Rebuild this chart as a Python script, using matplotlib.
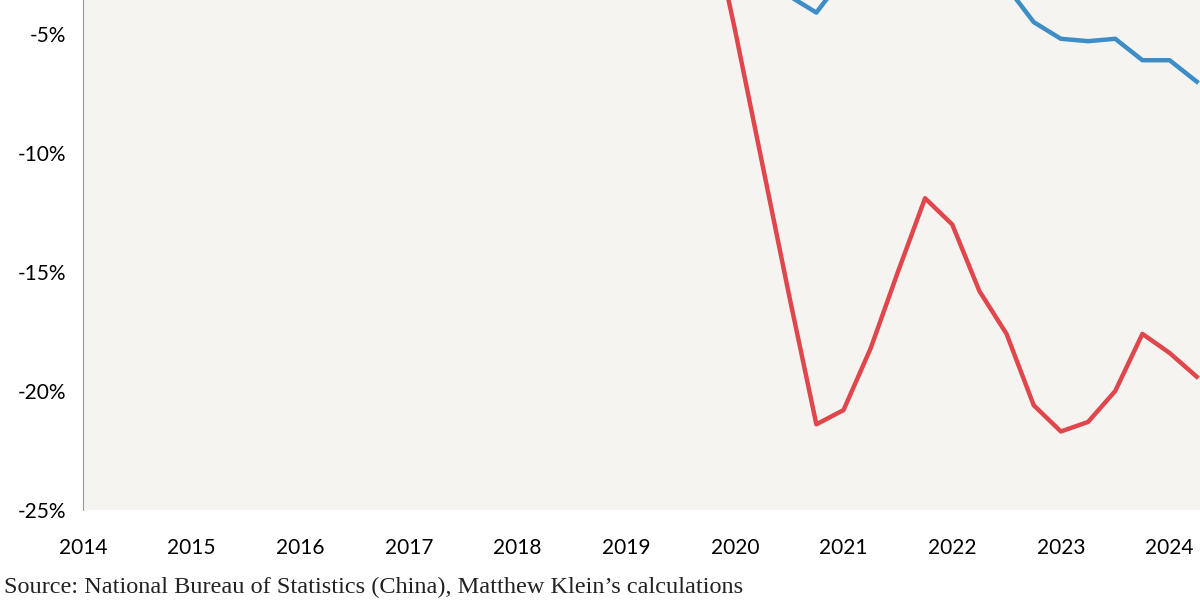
import matplotlib.pyplot as plt

# quarterly points (year fraction), values in %
red_x = [2019.75, 2020.0, 2020.25, 2020.5, 2020.75, 2021.0, 2021.25, 2021.5, 2021.75,
         2022.0, 2022.25, 2022.5, 2022.75, 2023.0, 2023.25, 2023.5, 2023.75, 2024.0, 2024.25]
red_y = [0.5, -4.8, -10.4, -16.0, -21.4, -20.8, -18.2, -15.0, -11.9,
         -13.0, -15.8, -17.6, -20.6, -21.7, -21.3, -20.0, -17.6, -18.4, -19.4]
blue_x = [2020.25, 2020.5, 2020.75, 2021.0, 2021.5, 2022.0, 2022.5, 2022.75, 2023.0,
          2023.25, 2023.5, 2023.75, 2024.0, 2024.25]
blue_y = [-2.0, -3.4, -4.1, -2.6, -2.0, -2.0, -3.0, -4.5, -5.2,
          -5.3, -5.2, -6.1, -6.1, -7.0]
years = list(range(2014, 2025))
yticks = [-25, -20, -15, -10, -5]

fig = plt.figure(figsize=(12, 6), dpi=100)
ax = fig.add_axes([0.069, 0.15, 0.931, 0.85])
ax.set_facecolor("#f6f4f1")
ax.plot(red_x, red_y, color="#e0474c", lw=3.2, solid_joinstyle="round")
ax.plot(blue_x, blue_y, color="#3d8dc7", lw=3.2, solid_joinstyle="round")
ax.set_xlim(2014, 2024.28)
ax.set_ylim(-25, -3.57)
ax.set_xticks(years)
ax.set_xticklabels([str(y) for y in years], fontsize=15, family="Lato")
ax.set_yticks(yticks)
ax.set_yticklabels([f"{v}%" for v in yticks], fontsize=15, family="Lato")
ax.tick_params(length=0, pad=20, axis="x")
ax.tick_params(length=0, pad=12, axis="y")
for s in ["top", "right", "bottom"]:
    ax.spines[s].set_visible(False)
ax.spines["left"].set_color("#999999")
fig.text(0.003, 0.012, "Source: National Bureau of Statistics (China), Matthew Klein\u2019s calculations",
         fontsize=17.5, family="Liberation Serif", color="#222222")
fig.savefig("out.png", dpi=100, facecolor="white")
